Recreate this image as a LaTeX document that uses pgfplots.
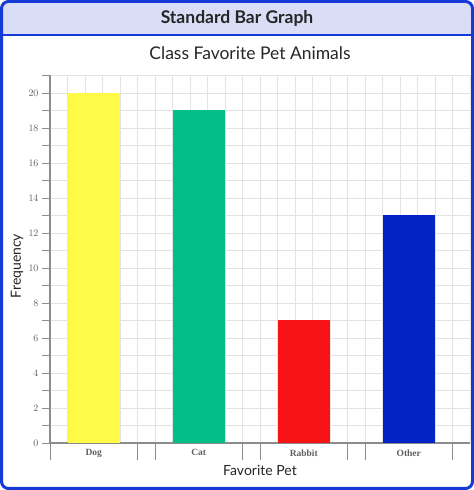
\documentclass[border=0pt]{standalone}
\usepackage{pgfplots}
\pgfplotsset{compat=1.18}
\usepackage{fontspec}
\setmainfont{Lato}
\newfontfamily\tickfont{Liberation Serif}
\definecolor{frameblue}{RGB}{22,58,215}
\definecolor{headfill}{RGB}{217,222,246}
\definecolor{cyellow}{RGB}{255,250,72}
\definecolor{cgreen}{RGB}{2,190,136}
\definecolor{cred}{RGB}{248,20,22}
\definecolor{cblue}{RGB}{2,36,196}
\definecolor{axgray}{RGB}{140,140,140}
\definecolor{txtgray}{RGB}{95,95,95}
\begin{document}
\begin{tikzpicture}[x=1bp,y=1bp]
\useasboundingbox (0,0) rectangle (474,490);
\begin{scope}
\clip[rounded corners=7bp] (1.5,1.5) rectangle (472.5,488.5);
\fill[white] (0,0) rectangle (474,490);
\fill[headfill] (0,455) rectangle (474,490);
\end{scope}
\draw[frameblue, line width=2bp] (2,455) -- (472,455);
\node[font=\bfseries\fontsize{17.5bp}{20bp}\selectfont, text=black!85] at (237,472) {Standard Bar Graph};
\node[font=\fontsize{17.5bp}{20bp}\selectfont, text=black!85] at (250,437) {Class Favorite Pet Animals};
\begin{axis}[
  at={(50bp,47bp)}, anchor=origin,
  scale only axis, width=420bp, height=367.5bp,
  xmin=0, xmax=24, ymin=0, ymax=21,
  axis x line*=bottom, axis y line*=left,
  axis line style={draw=axgray, line width=1.4bp},
  ytick={0,2,...,20}, minor ytick={1,3,...,21},
  xtick={0,5,6,11,12,17,18,23}, xticklabels={},
  minor xtick={1,...,24},
  xmajorgrids=false, xminorgrids=true, ymajorgrids=true, yminorgrids=true,
  grid style={draw=black!11, line width=0.7bp},
  major grid style={draw=black!11, line width=0.7bp},
  minor grid style={draw=black!11, line width=0.7bp},
  tick align=outside, major tick length=8bp, minor tick length=8bp,
  y tick style={draw=axgray, line width=0.9bp},
  minor y tick style={draw=axgray, line width=0.9bp},
  x tick style={draw=axgray, line width=0.9bp, yscale=2.1},
  minor x tick style={draw=none},
  extra x ticks={2.5,8.5,14.5,20.5}, extra x tick labels={Dog,Cat,Rabbit,Other},
  extra x tick style={xmajorgrids=false, x tick style={draw=none}},
  y tick label style={font=\tickfont\fontsize{9.5bp}{10bp}\selectfont, text=txtgray},
  x tick label style={font=\tickfont\bfseries\fontsize{9.5bp}{10bp}\selectfont, text=txtgray, yshift=5bp},
  clip=false,
]
\addplot[ybar, bar width=3, fill=cyellow, draw=none] coordinates {(2.5,20)};
\addplot[ybar, bar width=3, fill=cgreen, draw=none] coordinates {(8.5,19)};
\addplot[ybar, bar width=3, fill=cred, draw=none] coordinates {(14.5,7)};
\addplot[ybar, bar width=3, fill=cblue, draw=none] coordinates {(20.5,13)};
\end{axis}
\node[font=\fontsize{14bp}{16bp}\selectfont, text=black!85, rotate=90] at (17,224) {Frequency};
\node[font=\fontsize{14bp}{16bp}\selectfont, text=black!85] at (260,20) {Favorite Pet};
\draw[frameblue, line width=3bp, rounded corners=7bp] (1.5,1.5) rectangle (472.5,488.5);
\end{tikzpicture}
\end{document}
